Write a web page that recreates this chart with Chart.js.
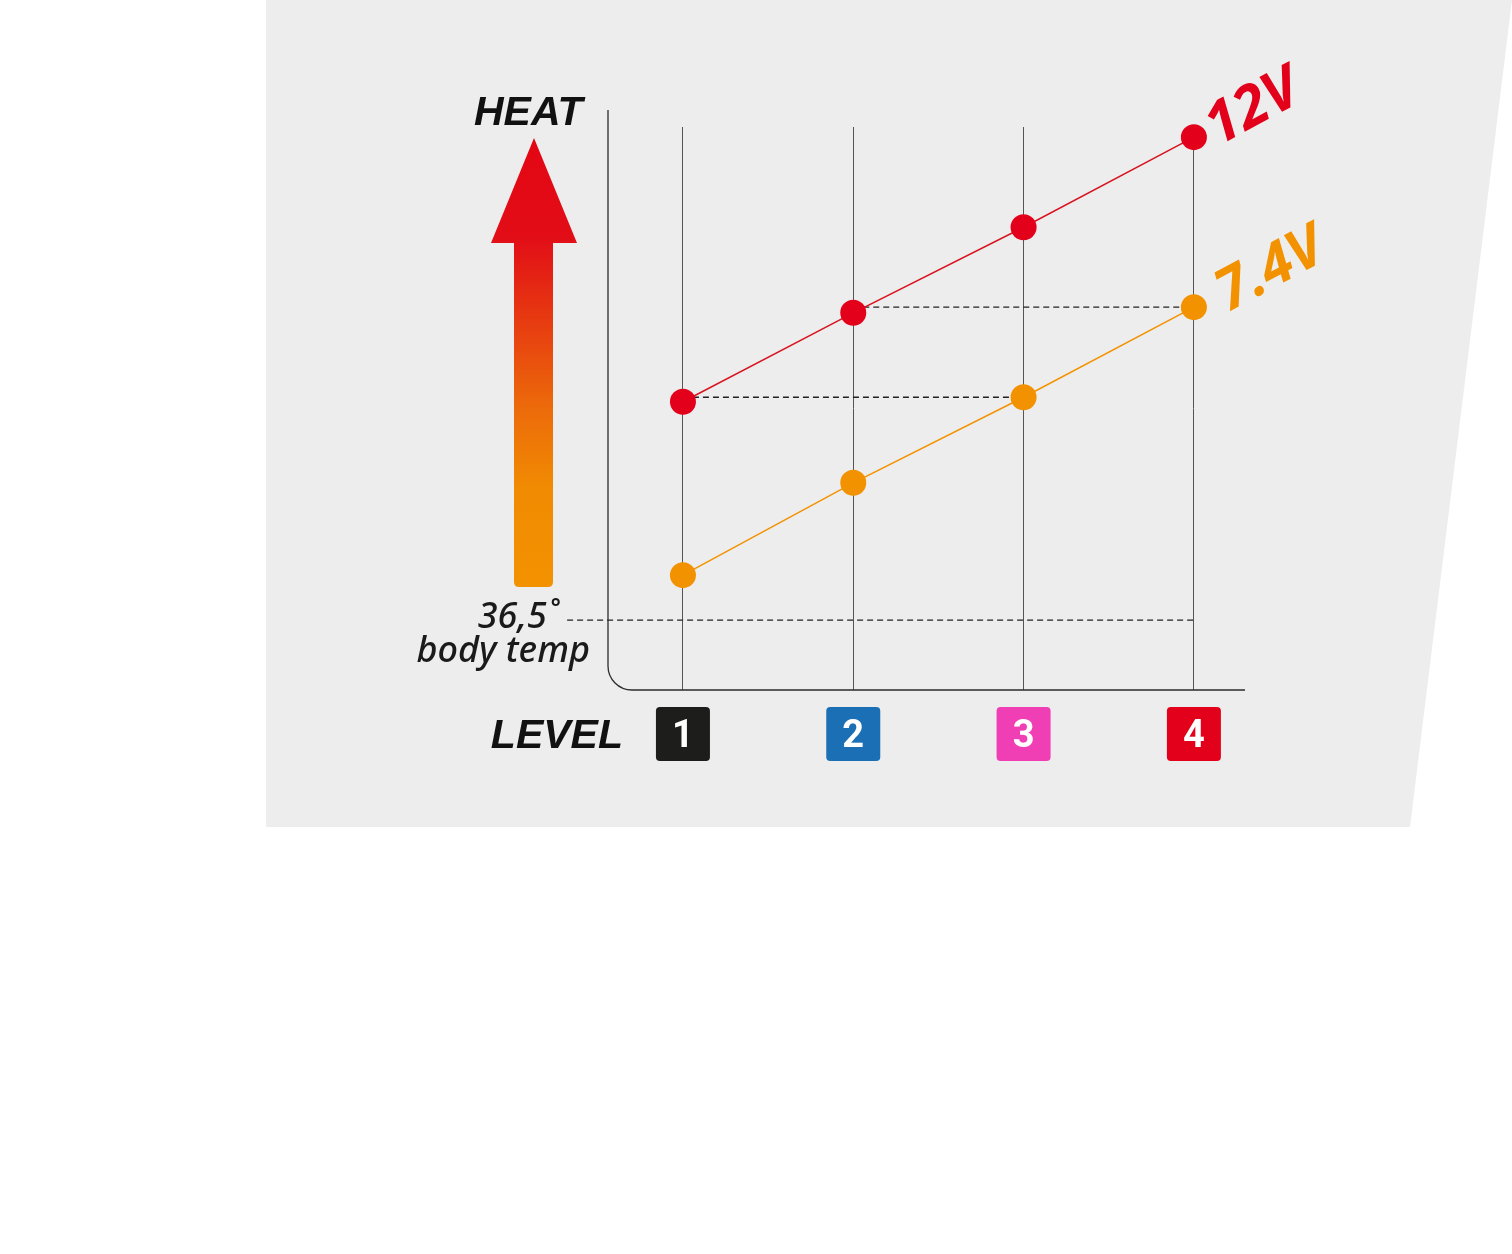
<!DOCTYPE html>
<html lang="en">
<head>
    <meta charset="UTF-8">
    <title>Heat by level</title>
    <script src="https://cdn.jsdelivr.net/npm/chart.js@4.4.0/dist/chart.umd.min.js"></script>
    <style>
        body { margin: 0; background: #fff; }
        #wrap { position: relative; width: 1512px; height: 1254px; }
    </style>
</head>
<body>
<div id="wrap"><canvas id="heatChart"></canvas></div>

<script>
    // values (heat index, 0 = x axis, 100 = top of grid)
    const levels = [1, 2, 3, 4];
    const levelColors = ['#1d1d1b', '#1a6fb5', '#f03fb4', '#e2001a'];
    const heat12V = [51.2, 67.0, 82.2, 98.2];
    const heat74V = [20.4, 36.8, 52.0, 68.0];
    const bodyTemp = 12.4;
    const bodyTempFrom = 0.32;   // dashed line starts left of the axis, under the label

    const RED = '#e2001a';
    const ORANGE = '#f39200';

    function pts(vals) {
        return vals.map((v, i) => ({ x: levels[i], y: v }));
    }

    // everything that is not a data mark: panel, axes, arrow, texts, level badges
    const decor = {
        id: 'decor',
        beforeDraw(chart) {
            const ctx = chart.ctx;
            ctx.save();
            ctx.fillStyle = '#ededed';
            ctx.beginPath();
            ctx.moveTo(266, 0);
            ctx.lineTo(1512, 0);
            ctx.lineTo(1410, 827);
            ctx.lineTo(266, 827);
            ctx.closePath();
            ctx.fill();
            ctx.restore();
        },
        afterDatasetsDraw(chart) {
            const { ctx, chartArea: a, scales: { x, y } } = chart;
            ctx.save();

            // axes with the rounded corner
            const r = 24;
            ctx.strokeStyle = '#2b2b2b';
            ctx.lineWidth = 1.3;
            ctx.beginPath();
            ctx.moveTo(a.left, a.top - 17);
            ctx.lineTo(a.left, a.bottom - r);
            ctx.arcTo(a.left, a.bottom, a.left + r, a.bottom, r);
            ctx.lineTo(a.right, a.bottom);
            ctx.stroke();

            // heat arrow
            const ax = 534, tipY = 138, headY = 243, baseY = 587;
            const g = ctx.createLinearGradient(0, tipY, 0, baseY);
            g.addColorStop(0, '#e30613');
            g.addColorStop(0.22, '#e20d17');
            g.addColorStop(0.6, '#ec6a0a');
            g.addColorStop(0.78, '#f18b02');
            g.addColorStop(1, '#f39200');
            ctx.fillStyle = g;
            ctx.beginPath();
            ctx.moveTo(ax, tipY);
            ctx.lineTo(ax + 43, headY);
            ctx.lineTo(ax + 19, headY);
            ctx.lineTo(ax + 19, baseY - 5);
            ctx.quadraticCurveTo(ax + 19, baseY, ax + 14, baseY);
            ctx.lineTo(ax - 15, baseY);
            ctx.quadraticCurveTo(ax - 20, baseY, ax - 20, baseY - 5);
            ctx.lineTo(ax - 20, headY);
            ctx.lineTo(ax - 43, headY);
            ctx.closePath();
            ctx.fill();

            // titles
            ctx.fillStyle = '#111';
            ctx.font = 'italic bold 41px "Liberation Sans"';
            ctx.textAlign = 'left';
            ctx.textBaseline = 'alphabetic';
            ctx.fillText('HEAT', 474, 125);
            ctx.textAlign = 'right';
            ctx.fillText('LEVEL', 623, 748);

            // body temp label
            const by = y.getPixelForValue(bodyTemp);
            ctx.fillStyle = '#1a1a1a';
            ctx.font = 'italic 500 36px "Noto Sans"';
            ctx.fillText('36,5\u02DA', 558, by + 8);
            ctx.fillText('body temp', 590, by + 42);

            // level badges under the x axis
            ctx.textAlign = 'center';
            ctx.textBaseline = 'middle';
            ctx.font = 'bold 38px Roboto';
            levels.forEach((lv, i) => {
                const cx = x.getPixelForValue(lv);
                const cy = a.bottom + 44;
                ctx.fillStyle = levelColors[i];
                ctx.beginPath();
                ctx.roundRect(cx - 27, cy - 27, 54, 54, 4);
                ctx.fill();
                ctx.fillStyle = '#fff';
                ctx.fillText(String(lv), cx, cy + 3);
            });

            // series labels, tilted along the lines
            const ang = -0.49;
            ctx.textAlign = 'left';
            ctx.textBaseline = 'alphabetic';
            ctx.font = 'italic bold 58px "Open Sans"';
            const last = levels.length - 1;
            let px = x.getPixelForValue(levels[last]);
            let py = y.getPixelForValue(heat12V[last]);
            ctx.save();
            ctx.translate(px + 24, py + 9);
            ctx.rotate(ang);
            ctx.fillStyle = RED;
            ctx.fillText('12V', 0, 0);
            ctx.restore();

            py = y.getPixelForValue(heat74V[last]);
            ctx.save();
            ctx.translate(px + 34, py + 5);
            ctx.rotate(ang);
            ctx.fillStyle = ORANGE;
            ctx.fillText('7.4V', 0, 0);
            ctx.restore();

            ctx.restore();
        }
    };

    const dashStyle = {
        borderColor: '#222',
        borderWidth: 1.3,
        borderDash: [6, 4],
        pointRadius: 0,
        fill: false,
        clip: false,
        order: 2
    };

    const ctx = document.getElementById('heatChart').getContext('2d');
    const heatChart = new Chart(ctx, {
        type: 'line',
        data: {
            datasets: [
                {
                    label: '12V',
                    data: pts(heat12V),
                    borderColor: '#d7141f',
                    borderWidth: 1.5,
                    backgroundColor: RED,
                    pointBackgroundColor: RED,
                    pointBorderWidth: 0,
                    pointRadius: 13,
                    clip: false,
                    order: 0
                },
                {
                    label: '7.4V',
                    data: pts(heat74V),
                    borderColor: ORANGE,
                    borderWidth: 1.5,
                    backgroundColor: ORANGE,
                    pointBackgroundColor: ORANGE,
                    pointBorderWidth: 0,
                    pointRadius: 13,
                    clip: false,
                    order: 0
                },
                // 12V at level 1 ~ 7.4V at level 3, 12V at level 2 ~ 7.4V at level 4
                Object.assign({ data: [{ x: levels[0], y: heat74V[2] }, { x: levels[2], y: heat74V[2] }] }, dashStyle),
                Object.assign({ data: [{ x: levels[1], y: heat74V[3] }, { x: levels[3], y: heat74V[3] }] }, dashStyle),
                Object.assign({ data: [{ x: bodyTempFrom, y: bodyTemp }, { x: levels[3], y: bodyTemp }] }, dashStyle)
            ]
        },
        options: {
            responsive: true,
            maintainAspectRatio: false,
            animation: false,
            events: [],
            layout: { padding: { left: 608, right: 267, top: 127, bottom: 564 } },
            plugins: { legend: { display: false }, tooltip: { enabled: false } },
            scales: {
                x: {
                    type: 'linear',
                    min: 0.56,
                    max: 4.3,
                    afterBuildTicks: s => { s.ticks = levels.map(v => ({ value: v })); },
                    afterFit: s => { s.height = 0; },
                    ticks: { display: false },
                    border: { display: false },
                    grid: { color: '#555', lineWidth: 1, drawTicks: false }
                },
                y: {
                    min: 0,
                    max: 100,
                    display: false
                }
            }
        },
        plugins: [decor]
    });
</script>
</body>
</html>
